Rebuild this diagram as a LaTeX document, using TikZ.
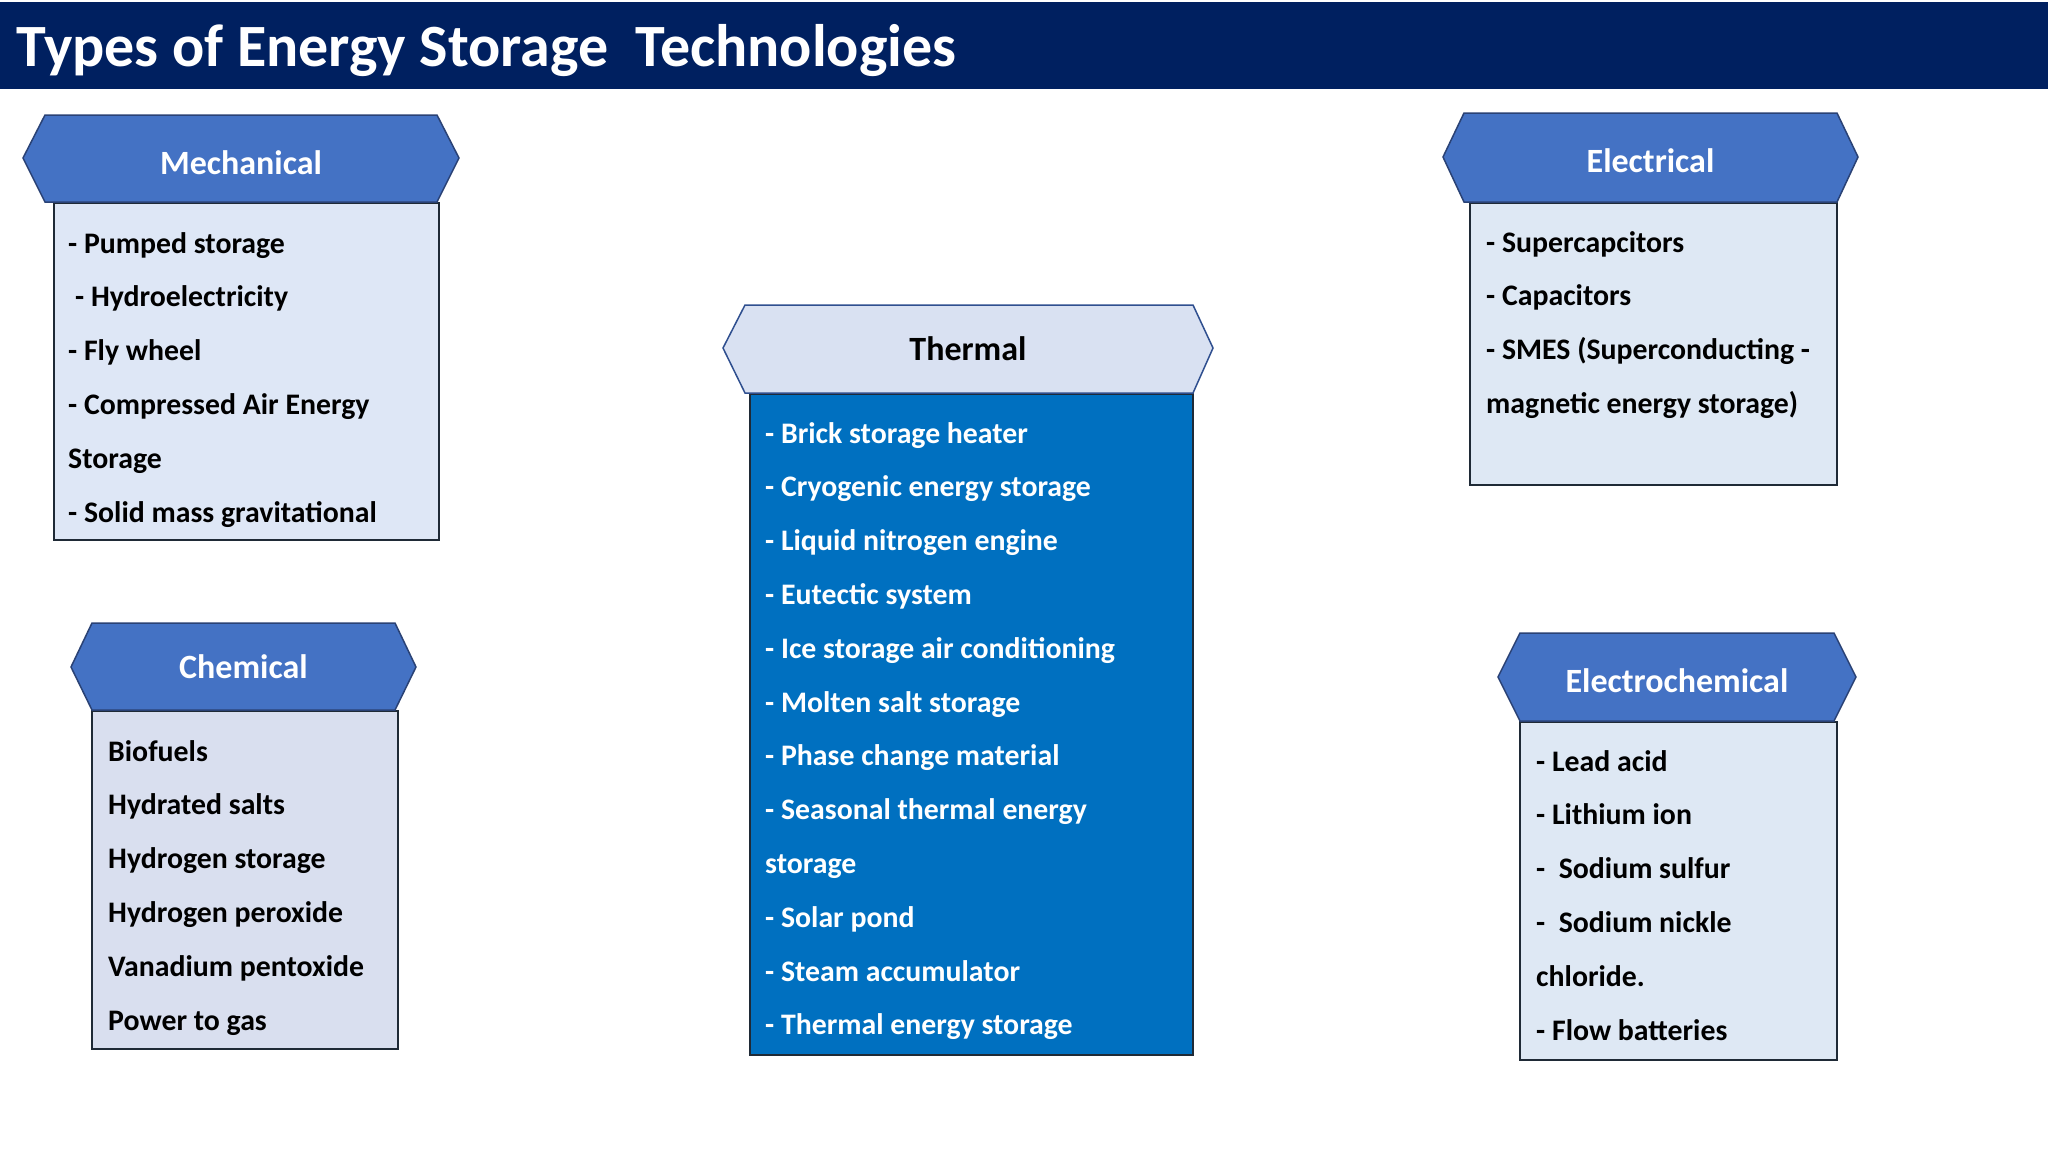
\documentclass[tikz,border=0pt]{standalone}
\usepackage{fontspec}
\setmainfont{Carlito}
\definecolor{navy}{HTML}{002060}
\definecolor{hdrblue}{HTML}{4472C4}
\definecolor{hdrline}{HTML}{2A4275}
\definecolor{thermhdr}{HTML}{D9E1F2}
\definecolor{thermline}{HTML}{2F4F8F}
\definecolor{thermbody}{HTML}{0070C0}
\definecolor{mechfill}{HTML}{DEE7F6}
\definecolor{chemfill}{HTML}{D9DFEF}
\definecolor{elecfill}{HTML}{DEE8F4}
\definecolor{boxline}{HTML}{1F2A36}
\begin{document}
\begin{tikzpicture}[x=1pt,y=-1pt,
  hdr/.style={fill=hdrblue,draw=hdrline,line width=1.5pt,line join=miter},
  thdr/.style={fill=thermhdr,draw=thermline,line width=1.5pt,line join=miter},
  bodybox/.style={draw=boxline,line width=1.8pt,anchor=north west,inner sep=0pt},
  item/.style={anchor=base west,inner sep=0pt,font=\fontsize{29.8}{36}\selectfont\bfseries},
  hdrtext/.style={anchor=base,inner sep=0pt,font=\fontsize{34}{40}\selectfont\bfseries,text=white}]
\useasboundingbox (0,0) rectangle (2048,1152);
\fill[white] (0,0) rectangle (2048,1152);
% title bar
\fill[navy] (0,2) rectangle (2048,89);
\node[anchor=base west,inner sep=0pt,font=\fontsize{60}{70}\selectfont\bfseries,text=white] (title) at (16,66) {Types of Energy Storage\ \ Technologies};

% ---------- Mechanical ----------
\node[bodybox,fill=mechfill,minimum width=385pt,minimum height=337pt] (mechbody) at (53,202) {};
\draw[hdr] (23,158) -- (45,115) -- (437,115) -- (459,158) -- (437,202) -- (45,202) -- cycle;
\node[hdrtext] (mechhdr) at (241,174) {Mechanical};
\foreach \t [count=\i from 0] in {- Pumped storage,{},- Fly wheel,- Compressed Air Energy,Storage,- Solid mass gravitational}
  \node[item] (mech\i) at (68,253+\i*53.8) {\t};
\node[item] (mechx) at (75,306.8) {- Hydroelectricity};

% ---------- Chemical ----------
\node[bodybox,fill=chemfill,minimum width=306pt,minimum height=338pt] (chembody) at (91,710) {};
\draw[hdr] (71,667) -- (92,623) -- (395,623) -- (416,667) -- (395,710) -- (92,710) -- cycle;
\node[hdrtext] (chemhdr) at (243.5,678) {Chemical};
\foreach \t [count=\i from 0] in {Biofuels,Hydrated salts,Hydrogen storage,Hydrogen peroxide,Vanadium pentoxide,Power to gas}
  \node[item] (chem\i) at (108,761+\i*53.8) {\t};

% ---------- Thermal ----------
\node[bodybox,fill=thermbody,minimum width=443pt,minimum height=661pt] (thermbody) at (749,393) {};
\draw[thdr] (723,348) -- (745,305) -- (1193,305) -- (1213,348) -- (1193,393) -- (745,393) -- cycle;
\node[hdrtext,text=black] (thermhdr) at (968,360) {Thermal};
\foreach \t [count=\i from 0] in {- Brick storage heater,- Cryogenic energy storage,- Liquid nitrogen engine,- Eutectic system,- Ice storage air conditioning,- Molten salt storage,- Phase change material,- Seasonal thermal energy,storage,- Solar pond,- Steam accumulator,- Thermal energy storage}
  \node[item,text=white] (therm\i) at (765,443+\i*53.8) {\t};

% ---------- Electrical ----------
\node[bodybox,fill=elecfill,minimum width=367pt,minimum height=282pt] (elecbody) at (1469,202) {};
\draw[hdr] (1443,157) -- (1464,113) -- (1837,113) -- (1858,157) -- (1837,202) -- (1464,202) -- cycle;
\node[hdrtext] (elechdr) at (1650.5,172) {Electrical};
\foreach \t [count=\i from 0] in {- Supercapcitors,- Capacitors,- SMES (Superconducting -,magnetic energy storage)}
  \node[item] (elec\i) at (1486,252+\i*53.8) {\t};

% ---------- Electrochemical ----------
\node[bodybox,fill=elecfill,minimum width=317pt,minimum height=338pt] (ecbody) at (1519,721) {};
\draw[hdr] (1498,677) -- (1520,633) -- (1834,633) -- (1856,677) -- (1834,721) -- (1520,721) -- cycle;
\node[hdrtext] (echdr) at (1677,692) {Electrochemical};
\foreach \t [count=\i from 0] in {- Lead acid,- Lithium ion,-\ \ Sodium sulfur,-\ \ Sodium nickle,chloride.,- Flow batteries}
  \node[item] (ec\i) at (1536,771+\i*53.8) {\t};
\end{tikzpicture}
\end{document}
